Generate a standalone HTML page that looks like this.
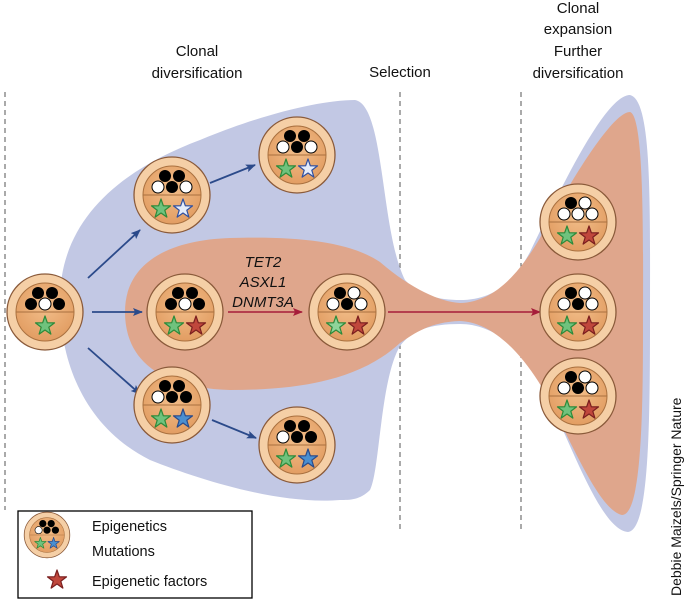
<!DOCTYPE html>
<html><head><meta charset="utf-8"><style>
html,body{margin:0;padding:0;background:#fff;}
svg{display:block;font-family:"Liberation Sans",sans-serif;}
</style></head><body>
<svg width="685" height="600" viewBox="0 0 685 600" xmlns="http://www.w3.org/2000/svg">
<defs>
<radialGradient id="ig" cx="0.5" cy="0.4" r="0.6"><stop offset="0" stop-color="#f2be8a"/><stop offset="1" stop-color="#e29d62"/></radialGradient>
<g id="cell">
<circle r="38" fill="#f5cfa6" stroke="#8a5a3a" stroke-width="1.3"/>
<circle r="29" fill="url(#ig)" stroke="#a9703f" stroke-width="1"/>
<line x1="-29" y1="0" x2="29" y2="0" stroke="#a9703f" stroke-width="1"/>
</g>
<path id="st" d="M0,-10 L2.35,-3.24 L9.51,-3.09 L3.8,1.24 L5.88,8.09 L0,4 L-5.88,8.09 L-3.8,1.24 L-9.51,-3.09 L-2.35,-3.24Z" stroke-width="1.2" stroke-linejoin="round"/>
<marker id="ab" markerWidth="10" markerHeight="8" refX="9" refY="4" orient="auto" markerUnits="userSpaceOnUse"><path d="M0,0 L10,4 L0,8 L2,4Z" fill="#2b4a8a"/></marker>
<marker id="ar" markerWidth="10" markerHeight="8" refX="9" refY="4" orient="auto" markerUnits="userSpaceOnUse"><path d="M0,0 L10,4 L0,8 L2,4Z" fill="#a61d3a"/></marker>
</defs>

<g stroke="#555" stroke-width="1" stroke-dasharray="5,4">
<line x1="5" y1="92" x2="5" y2="510"/>
<line x1="400" y1="92" x2="400" y2="530"/>
<line x1="521" y1="92" x2="521" y2="530"/>
</g>

<path fill="#c2c8e4" d="M60,300 C60,220 120,170 200,140 C260,115 320,100 355,100 C385,105 380,230 405,280 C420,296 440,300 460,300 C495,300 515,280 530,252 C560,190 605,95 630,95 C652,100 650,200 650,320 C650,440 648,530 628,532 C600,530 570,440 542,385 C522,345 490,324 460,324 C430,324 412,330 400,346 C380,380 380,470 370,490 C360,500 350,500 340,500 C280,505 200,480 150,460 C90,430 60,370 60,300Z"/>
<path fill="#dfa68c" d="M125,312 C125,262 170,240 230,238 C300,236 350,242 380,262 C410,288 440,302 460,303 C495,302 520,272 540,238 C560,200 610,112 630,112 C645,116 643,250 643,330 C643,430 640,515 622,515 C600,510 575,450 548,398 C522,350 490,322 460,321 C430,322 415,333 400,343 C360,380 300,390 230,390 C160,388 125,360 125,312Z"/>

<g stroke="#2b4a8a" stroke-width="1.8" fill="none" marker-end="url(#ab)">
<line x1="88" y1="278" x2="140" y2="230"/>
<line x1="92" y1="312" x2="142" y2="312"/>
<line x1="88" y1="348" x2="140" y2="394"/>
<line x1="210" y1="183" x2="255" y2="165"/>
<line x1="212" y1="420" x2="256" y2="438"/>
</g>
<g stroke="#a61d3a" stroke-width="1.6" fill="none" marker-end="url(#ar)">
<line x1="228" y1="312" x2="302" y2="312"/>
<line x1="388" y1="312" x2="540" y2="312"/>
</g>

<g transform="translate(45,312)"><use href="#cell"/>
<circle cx="-7" cy="-19" r="6" fill="#000"/><circle cx="7" cy="-19" r="6" fill="#000"/>
<circle cx="-14" cy="-8" r="6" fill="#000"/><circle cx="0" cy="-8" r="6" fill="#fff" stroke="#000"/><circle cx="14" cy="-8" r="6" fill="#000"/>
<use href="#st" y="14" fill="#6fc27d" stroke="#2d8a3a"/></g>
<g transform="translate(172,195)"><use href="#cell"/>
<circle cx="-7" cy="-19" r="6" fill="#000"/><circle cx="7" cy="-19" r="6" fill="#000"/>
<circle cx="-14" cy="-8" r="6" fill="#fff" stroke="#000"/><circle cx="0" cy="-8" r="6" fill="#000"/><circle cx="14" cy="-8" r="6" fill="#fff" stroke="#000"/>
<use href="#st" x="-11" y="14" fill="#6fc27d" stroke="#2d8a3a"/><use href="#st" x="11" y="14" fill="#e4ecfa" stroke="#3050a0"/></g>
<g transform="translate(297,155)"><use href="#cell"/>
<circle cx="-7" cy="-19" r="6" fill="#000"/><circle cx="7" cy="-19" r="6" fill="#000"/>
<circle cx="-14" cy="-8" r="6" fill="#fff" stroke="#000"/><circle cx="0" cy="-8" r="6" fill="#000"/><circle cx="14" cy="-8" r="6" fill="#fff" stroke="#000"/>
<use href="#st" x="-11" y="14" fill="#6fc27d" stroke="#2d8a3a"/><use href="#st" x="11" y="14" fill="#e4ecfa" stroke="#3050a0"/></g>
<g transform="translate(185,312)"><use href="#cell"/>
<circle cx="-7" cy="-19" r="6" fill="#000"/><circle cx="7" cy="-19" r="6" fill="#000"/>
<circle cx="-14" cy="-8" r="6" fill="#000"/><circle cx="0" cy="-8" r="6" fill="#fff" stroke="#000"/><circle cx="14" cy="-8" r="6" fill="#000"/>
<use href="#st" x="-11" y="14" fill="#6fc27d" stroke="#2d8a3a"/><use href="#st" x="11" y="14" fill="#c0473c" stroke="#7a1f1f"/></g>
<g transform="translate(347,312)"><use href="#cell"/>
<circle cx="-7" cy="-19" r="6" fill="#000"/><circle cx="7" cy="-19" r="6" fill="#fff" stroke="#000"/>
<circle cx="-14" cy="-8" r="6" fill="#fff" stroke="#000"/><circle cx="0" cy="-8" r="6" fill="#000"/><circle cx="14" cy="-8" r="6" fill="#fff" stroke="#000"/>
<use href="#st" x="-11" y="14" fill="#8fd49a" stroke="#2d8a3a"/><use href="#st" x="11" y="14" fill="#c0473c" stroke="#7a1f1f"/></g>
<g transform="translate(172,405)"><use href="#cell"/>
<circle cx="-7" cy="-19" r="6" fill="#000"/><circle cx="7" cy="-19" r="6" fill="#000"/>
<circle cx="-14" cy="-8" r="6" fill="#fff" stroke="#000"/><circle cx="0" cy="-8" r="6" fill="#000"/><circle cx="14" cy="-8" r="6" fill="#000"/>
<use href="#st" x="-11" y="14" fill="#6fc27d" stroke="#2d8a3a"/><use href="#st" x="11" y="14" fill="#4a8fd0" stroke="#2a4a8a"/></g>
<g transform="translate(297,445)"><use href="#cell"/>
<circle cx="-7" cy="-19" r="6" fill="#000"/><circle cx="7" cy="-19" r="6" fill="#000"/>
<circle cx="-14" cy="-8" r="6" fill="#fff" stroke="#000"/><circle cx="0" cy="-8" r="6" fill="#000"/><circle cx="14" cy="-8" r="6" fill="#000"/>
<use href="#st" x="-11" y="14" fill="#6fc27d" stroke="#2d8a3a"/><use href="#st" x="11" y="14" fill="#4a8fd0" stroke="#2a4a8a"/></g>
<g transform="translate(578,222)"><use href="#cell"/>
<circle cx="-7" cy="-19" r="6" fill="#000"/><circle cx="7" cy="-19" r="6" fill="#fff" stroke="#000"/>
<circle cx="-14" cy="-8" r="6" fill="#fff" stroke="#000"/><circle cx="0" cy="-8" r="6" fill="#fff" stroke="#000"/><circle cx="14" cy="-8" r="6" fill="#fff" stroke="#000"/>
<use href="#st" x="-11" y="14" fill="#6fc27d" stroke="#2d8a3a"/><use href="#st" x="11" y="14" fill="#c0473c" stroke="#7a1f1f"/></g>
<g transform="translate(578,312)"><use href="#cell"/>
<circle cx="-7" cy="-19" r="6" fill="#000"/><circle cx="7" cy="-19" r="6" fill="#fff" stroke="#000"/>
<circle cx="-14" cy="-8" r="6" fill="#fff" stroke="#000"/><circle cx="0" cy="-8" r="6" fill="#000"/><circle cx="14" cy="-8" r="6" fill="#fff" stroke="#000"/>
<use href="#st" x="-11" y="14" fill="#6fc27d" stroke="#2d8a3a"/><use href="#st" x="11" y="14" fill="#c0473c" stroke="#7a1f1f"/></g>
<g transform="translate(578,396)"><use href="#cell"/>
<circle cx="-7" cy="-19" r="6" fill="#000"/><circle cx="7" cy="-19" r="6" fill="#fff" stroke="#000"/>
<circle cx="-14" cy="-8" r="6" fill="#fff" stroke="#000"/><circle cx="0" cy="-8" r="6" fill="#000"/><circle cx="14" cy="-8" r="6" fill="#fff" stroke="#000"/>
<use href="#st" x="-11" y="14" fill="#6fc27d" stroke="#2d8a3a"/><use href="#st" x="11" y="14" fill="#c0473c" stroke="#7a1f1f"/></g>

<rect x="18" y="511" width="234" height="87" fill="#fff" stroke="#000" stroke-width="1.3"/>
<g transform="translate(47,535) scale(0.6)"><use href="#cell"/>
<circle cx="-7" cy="-19" r="6" fill="#000"/><circle cx="7" cy="-19" r="6" fill="#000"/>
<circle cx="-14" cy="-8" r="6" fill="#fff" stroke="#000"/><circle cx="0" cy="-8" r="6" fill="#000"/><circle cx="14" cy="-8" r="6" fill="#000"/>
<use href="#st" x="-11" y="14" fill="#6fc27d" stroke="#2d8a3a"/><use href="#st" x="11" y="14" fill="#4a8fd0" stroke="#2a4a8a"/></g>
<use href="#st" x="57" y="580" fill="#c0473c" stroke="#7a1f1f"/>
<g font-size="14.5" fill="#111">
<text x="92" y="531">Epigenetics</text>
<text x="92" y="556">Mutations</text>
<text x="92" y="586">Epigenetic factors</text>
</g>

<g font-size="15" fill="#111" text-anchor="middle">
<text x="197" y="56">Clonal</text>
<text x="197" y="78">diversification</text>
<text x="400" y="77">Selection</text>
<text x="578" y="13">Clonal</text>
<text x="578" y="34">expansion</text>
<text x="578" y="56">Further</text>
<text x="578" y="78">diversification</text>
</g>
<g font-size="15" font-style="italic" fill="#111" text-anchor="middle">
<text x="263" y="267">TET2</text>
<text x="263" y="287">ASXL1</text>
<text x="263" y="307">DNMT3A</text>
</g>
<text transform="translate(681,596) rotate(-90)" font-size="14" fill="#111">Debbie Maizels/Springer Nature</text>
</svg>
</body></html>
